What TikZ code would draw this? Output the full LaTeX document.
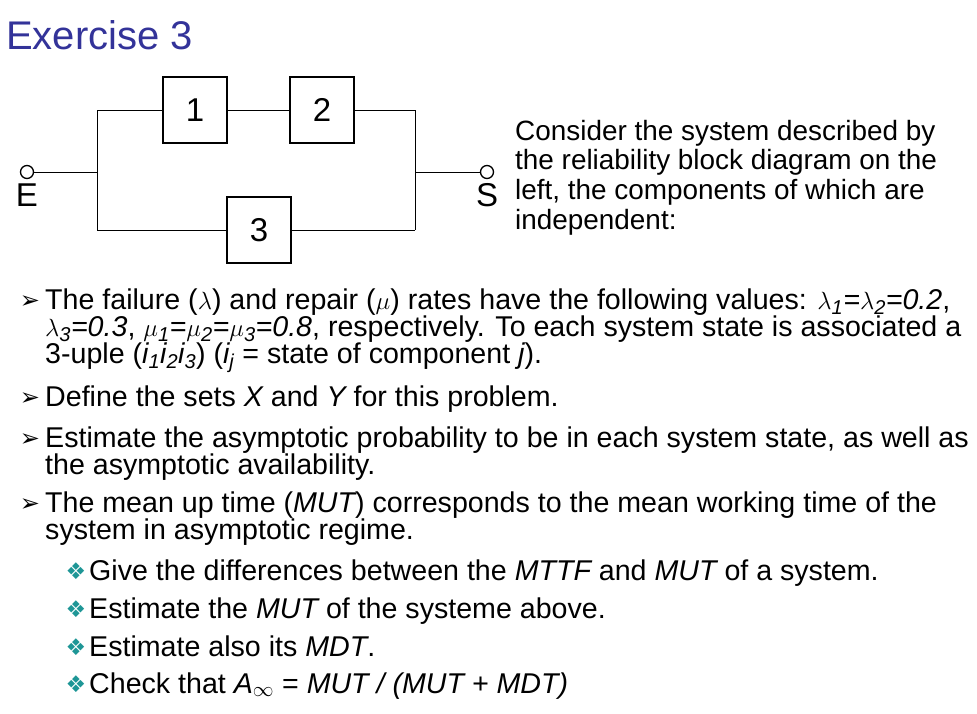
\documentclass[tikz,border=0pt]{standalone}
\usepackage{fontspec}
\setmainfont{Liberation Sans}
\newfontfamily\dejavu{DejaVu Sans}
\definecolor{titleblue}{HTML}{333399}
\definecolor{teal2}{HTML}{1E9696}
\newcommand{\sbs}[1]{\textsubscript{\itshape #1}}
\begin{document}
\begin{tikzpicture}[x=1pt,y=-1pt,
  blk/.style={draw,line width=1.5pt,minimum width=64pt,minimum height=66pt,font=\fontsize{33}{34}\selectfont,inner sep=0},
  term/.style={draw,circle,line width=1.3pt,minimum size=13pt,inner sep=0},
  wire/.style={line width=0.8pt},
  ln/.style={anchor=base west,inner sep=0,font=\fontsize{28.6}{30}\selectfont},
  rp/.style={anchor=base west,inner sep=0,font=\fontsize{27.9}{30}\selectfont},
  arr/.style={anchor=base,inner sep=0,font=\dejavu\fontsize{24}{26}\selectfont},
  dia/.style={anchor=base,inner sep=0,text=teal2,font=\dejavu\fontsize{23}{26}\selectfont}]
\useasboundingbox (0,0) rectangle (977,713);
\node[anchor=base west,inner sep=0,text=titleblue,font=\fontsize{40}{44}\selectfont] (title) at (6,49) {Exercise 3};
% diagram
\node[term] (E) at (27,172) {};
\node[term] (S) at (487,172) {};
\node[anchor=mid,inner sep=0,font=\fontsize{33}{34}\selectfont] (El) at (27,204) {E};
\node[anchor=mid,inner sep=0,font=\fontsize{33}{34}\selectfont] (Sl) at (487,204) {S};
\node[blk] (b1) at (195,110) {1};
\node[blk] (b2) at (322,110) {2};
\node[blk] (b3) at (259,230) {3};
\coordinate (jl) at (97,172);
\coordinate (jr) at (415,172);
\coordinate (lt) at (97,110);
\coordinate (lb) at (97,230);
\coordinate (rt) at (415,110);
\coordinate (rb) at (415,230);
\draw[wire] (E) -- (jl);
\draw[wire] (lt) -- (lb);
\draw[wire] (lt) -- (b1);
\draw[wire] (b1) -- (b2);
\draw[wire] (b2) -- (rt);
\draw[wire] (rt) -- (rb);
\draw[wire] (lb) -- (b3);
\draw[wire] (b3) -- (rb);
\draw[wire] (jr) -- (S);
% right paragraph
\node[rp] (r1) at (515,140) {Consider the system described by};
\node[rp] (r2) at (515,169) {the reliability block diagram on the};
\node[rp] (r3) at (515,199) {left, the components of which are};
\node[rp] (r4) at (515,229) {independent:};
% bullets
\node[arr] (a1) at (30,308) {➢};
\node[ln] (t1) at (45,309) {The failure ($\lambda$) and repair ($\mu$) rates have the following values: $\lambda$\sbs{1}{\itshape =}$\lambda$\sbs{2}{\itshape =0.2},};
\node[ln] (t1b) at (45,336) {$\lambda$\sbs{3}{\itshape =0.3}, $\mu$\sbs{1}{\itshape =}$\mu$\sbs{2}{\itshape =}$\mu$\sbs{3}{\itshape =0.8}, respectively. To each system state is associated a};
\node[ln] (t1c) at (45,363) {3-uple ({\itshape i}\sbs{1}{\itshape i}\sbs{2}{\itshape i}\sbs{3}) ({\itshape i}\sbs{j} = state of component {\itshape j}).};
\node[arr] (a2) at (30,405) {➢};
\node[ln] (t2) at (45,406) {Define the sets {\itshape X} and {\itshape Y} for this problem.};
\node[arr] (a3) at (30,446) {➢};
\node[ln] (t3) at (45,447) {Estimate the asymptotic probability to be in each system state, as well as};
\node[ln] (t3b) at (45,474) {the asymptotic availability.};
\node[arr] (a4) at (30,511) {➢};
\node[ln] (t4) at (45,512) {The mean up time ({\itshape MUT}) corresponds to the mean working time of the};
\node[ln] (t4b) at (45,539) {system in asymptotic regime.};
\node[dia] (d1) at (76,579) {❖};
\node[ln] (s1) at (89,580) {Give the differences between the {\itshape MTTF} and {\itshape MUT} of a system.};
\node[dia] (d2) at (76,617) {❖};
\node[ln] (s2) at (89,618) {Estimate the {\itshape MUT} of the systeme above.};
\node[dia] (d3) at (76,655) {❖};
\node[ln] (s3) at (89,656) {Estimate also its {\itshape MDT}.};
\node[dia] (d4) at (76,692) {❖};
\node[ln] (s4) at (89,693) {Check that {\itshape A}$_\infty$ = {\itshape MUT / (MUT + MDT)}};
\end{tikzpicture}
\end{document}
